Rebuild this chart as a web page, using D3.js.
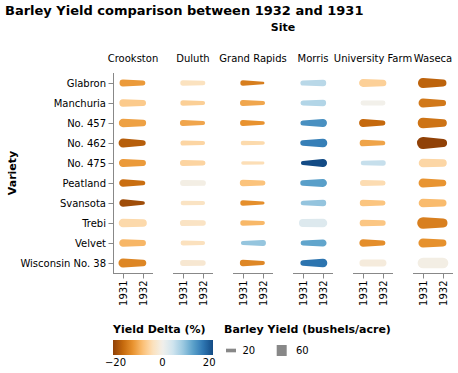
<!DOCTYPE html>
<html>
<head>
<meta charset="utf-8">
<script src="https://cdn.jsdelivr.net/npm/d3@7"></script>
<style>
  html, body { margin: 0; padding: 0; background: #fff; }
  svg text { font-family: "DejaVu Sans", sans-serif; fill: #000; }
</style>
</head>
<body>
<svg id="chart" width="458" height="373"></svg>
<script>
// ---------------- data ----------------
const sites = ["Crookston", "Duluth", "Grand Rapids", "Morris", "University Farm", "Waseca"];
const varieties = ["Glabron", "Manchuria", "No. 457", "No. 462", "No. 475", "Peatland",
                   "Svansota", "Trebi", "Velvet", "Wisconsin No. 38"];
const years = [1931, 1932];
// rows: varieties (order above); columns: sites (order above)
const yield1931 = [
  [38.13, 29.67, 29.13, 28.77, 43.07, 55.20],
  [39.93, 28.97, 32.97, 27.43, 27.00, 48.87],
  [45.67, 33.60, 32.17, 28.70, 43.27, 58.10],
  [48.57, 28.10, 24.93, 30.37, 36.60, 65.77],
  [44.10, 33.07, 19.70, 22.60, 24.67, 46.77],
  [41.60, 32.00, 34.70, 29.87, 32.77, 48.57],
  [40.47, 25.70, 29.67, 25.77, 35.13, 47.33],
  [46.93, 33.93, 29.77, 43.77, 36.57, 63.83],
  [41.33, 26.30, 23.03, 26.13, 39.90, 50.23],
  [49.87, 31.60, 34.47, 29.47, 39.30, 58.80]
];
const yield1932 = [
  [26.17, 25.87, 14.43, 35.13, 36.80, 37.73],
  [32.97, 22.57, 22.13, 34.37, 26.90, 33.47],
  [34.33, 22.70, 19.47, 43.53, 26.43, 42.20],
  [30.53, 22.50, 19.90, 47.00, 25.57, 44.70],
  [32.13, 27.37, 15.23, 44.23, 30.00, 41.27],
  [25.23, 31.37, 26.77, 43.20, 28.07, 36.03],
  [20.63, 22.23, 16.63, 35.03, 27.43, 38.50],
  [41.83, 30.60, 20.63, 46.63, 29.07, 49.23],
  [32.07, 22.47, 32.23, 38.83, 26.80, 37.40],
  [35.90, 29.33, 20.67, 47.17, 38.00, 58.17]
];
const sizeLegendValues = [20, 60];
const colorLegendTicks = [-20, 0, 20];
// vega "blueorange" scheme (used reversed: negative = orange)
const blueOrange = ["#134b85","#2f78b3","#5da2cb","#9dcae1","#d2e5ef","#f2f0eb",
                    "#fce0ba","#fbbf74","#e8932f","#c5690d","#904107"];

// ---------------- build records ----------------
const records = [];
varieties.forEach((v, i) => {
  sites.forEach((s, j) => {
    const a = yield1931[i][j], b = yield1932[i][j];
    records.push({variety: v, site: s, y1931: a, y1932: b, delta: b - a});
  });
});

// ---------------- layout ----------------
const svg = d3.select("#chart");
const plotTop = 73, plotH = 200, colW = 40, colGap = 20, plotLeft = 113;
const gray = "#888";

const y = d3.scalePoint().domain(varieties).range([plotTop, plotTop + plotH]).padding(0.5);
const x = d3.scalePoint().domain(years).range([0, colW]).padding(0.5);
const col = d3.scaleBand().domain(sites).range([plotLeft, plotLeft + sites.length * colW + (sites.length - 1) * colGap])
  .paddingInner(colGap / (colW + colGap)).paddingOuter(0);

const maxYield = d3.max(records, d => Math.max(d.y1931, d.y1932));
const size = d3.scaleLinear().domain([0, maxYield]).range([0, 12]);

const dMin = d3.min(records, d => d.delta), dMax = d3.max(records, d => d.delta);
const interp = d3.piecewise(d3.interpolateRgb, blueOrange.slice().reverse());
const color = d3.scaleDiverging().domain([dMin, 0, dMax]).interpolator(interp);

// ---------------- title & headers ----------------
svg.append("text").attr("x", 5).attr("y", 15)
  .style("font-size", "13px").style("font-weight", "bold")
  .text("Barley Yield comparison between 1932 and 1931");

const facetCenter = (col.range()[0] + col.range()[1]) / 2;
svg.append("text").attr("x", facetCenter).attr("y", 31)
  .attr("text-anchor", "middle").style("font-size", "11px").style("font-weight", "bold")
  .text("Site");

svg.selectAll("text.colhead").data(sites).enter().append("text")
  .attr("class", "colhead")
  .attr("x", d => col(d) + colW / 2).attr("y", 61.5)
  .attr("text-anchor", "middle").style("font-size", "10px")
  .text(d => d);

// ---------------- y axis ----------------
const yAxisG = svg.append("g").attr("transform", `translate(${plotLeft},0)`)
  .call(d3.axisLeft(y).tickSize(5).tickSizeOuter(0).tickPadding(2));
yAxisG.select(".domain").attr("d", `M0.5,${plotTop}V${plotTop + plotH}`).attr("stroke", gray);
yAxisG.selectAll(".tick line").attr("stroke", gray).attr("x1", 0.5).attr("x2", -4.5);
yAxisG.selectAll(".tick text").style("font-size", "10px").attr("fill", "#000")
  .style("font-family", '"DejaVu Sans", sans-serif');
svg.append("text").attr("transform", `translate(16,${plotTop + plotH / 2}) rotate(-90)`)
  .attr("text-anchor", "middle").style("font-size", "11px").style("font-weight", "bold")
  .text("Variety");

// ---------------- facets ----------------
sites.forEach(site => {
  const g = svg.append("g").attr("transform", `translate(${col(site)},0)`);
  const xa = g.append("g").attr("transform", `translate(0,${plotTop + plotH})`)
    .call(d3.axisBottom(x).tickSize(5).tickSizeOuter(0));
  xa.select(".domain").attr("d", `M0,0.5H${colW}`).attr("stroke", gray);
  xa.selectAll(".tick line").attr("stroke", gray).attr("y1", 0.5).attr("y2", 5.5);
  xa.selectAll(".tick text")
    .attr("transform", "rotate(-90)").attr("x", -7.5).attr("y", 0).attr("dy", "0.32em")
    .attr("text-anchor", "end").style("font-size", "10px").attr("fill", "#000")
    .style("font-family", '"DejaVu Sans", sans-serif');

  const data = records.filter(d => d.site === site);
  g.selectAll("path.trail").data(data).enter().append("path")
    .attr("class", "trail")
    .attr("fill", d => color(d.delta))
    .attr("d", d => trailPath(x(1931), y(d.variety), size(d.y1931) / 2,
                              x(1932), size(d.y1932) / 2));
});

function trailPath(x1, cy, r1, x2, r2) {
  const dist = x2 - x1;
  const nx = (r2 - r1) / dist;
  const ny = Math.sqrt(Math.max(0, 1 - nx * nx));
  const t1 = [x1 - r1 * nx, cy - r1 * ny], t2 = [x2 - r2 * nx, cy - r2 * ny];
  const b2 = [x2 - r2 * nx, cy + r2 * ny], b1 = [x1 - r1 * nx, cy + r1 * ny];
  return `M${t1}L${t2}A${r2},${r2} 0 ${r2 > r1 ? 1 : 0} 1 ${b2}` +
         `L${b1}A${r1},${r1} 0 ${r1 > r2 ? 1 : 0} 1 ${t1}Z`;
}

// ---------------- color legend ----------------
const cl = { x: 113, y: 340, w: 100, h: 15 };
svg.append("text").attr("x", cl.x).attr("y", 333)
  .style("font-size", "11px").style("font-weight", "bold").text("Yield Delta (%)");
const grad = svg.append("defs").append("linearGradient").attr("id", "deltaGrad")
  .attr("x1", "0%").attr("x2", "100%").attr("y1", "0%").attr("y2", "0%");
const nStops = 40;
d3.range(nStops + 1).forEach(i => {
  const v = dMin + (dMax - dMin) * i / nStops;
  grad.append("stop").attr("offset", (100 * i / nStops) + "%").attr("stop-color", color(v));
});
svg.append("rect").attr("x", cl.x).attr("y", cl.y).attr("width", cl.w).attr("height", cl.h)
  .attr("fill", "url(#deltaGrad)");
const legX = d3.scaleLinear().domain([dMin, dMax]).range([cl.x, cl.x + cl.w]);
svg.selectAll("text.cltick").data(colorLegendTicks).enter().append("text")
  .attr("class", "cltick")
  .attr("x", d => legX(d)).attr("y", 366)
  .attr("text-anchor", "middle").style("font-size", "10px")
  .text(d => d < 0 ? "\u2212" + Math.abs(d) : d);

// ---------------- size legend ----------------
svg.append("text").attr("x", 224).attr("y", 333)
  .style("font-size", "11px").style("font-weight", "bold").text("Barley Yield (bushels/acre)");
const symX = [231, 281.7], labX = [242.5, 296];
sizeLegendValues.forEach((v, i) => {
  svg.append("line").attr("x1", symX[i] - 5).attr("x2", symX[i] + 5)
    .attr("y1", 350.5).attr("y2", 350.5)
    .attr("stroke", gray).attr("stroke-width", size(v));
  svg.append("text").attr("x", labX[i]).attr("y", 350.5).attr("dy", "0.32em")
    .style("font-size", "10px").text(v);
});
</script>
</body>
</html>
